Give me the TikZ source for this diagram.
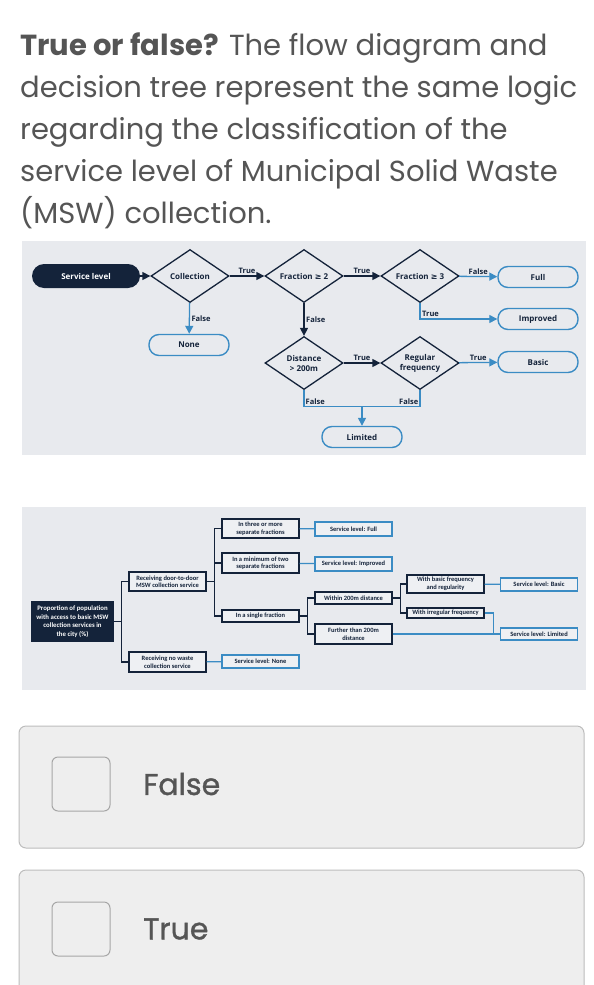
\documentclass[tikz,border=0pt]{standalone}
\usepackage{fontspec}
\setmainfont{Poppins}
\newfontfamily\optfont[FakeBold=1.2]{Poppins}
\newfontfamily\flowfont{Open Sans}
\newfontfamily\treefont{Carlito}
\newfontfamily\symfont{DejaVu Sans}
\usetikzlibrary{shapes.geometric,arrows.meta,positioning}

\definecolor{navy}{HTML}{14233A}
\definecolor{skyline}{HTML}{3B8CC4}
\definecolor{panelgray}{HTML}{E8EAEE}
\definecolor{boxfill}{HTML}{EEF0F3}
\definecolor{txtgray}{HTML}{555555}
\definecolor{optfill}{HTML}{EEEEEE}
\definecolor{optedge}{HTML}{BDBDBD}

\tikzset{
  titleline/.style={anchor=base west, inner sep=0pt, text=txtgray,
    font=\fontsize{29}{42}\selectfont},
  % flow diagram
  choice/.style={diamond, draw=navy, line width=1.3pt, fill=panelgray,
    minimum width=78pt, minimum height=53pt, inner sep=0pt, aspect=1.5,
    align=center, text=navy, font=\flowfont\fontsize{8}{10}\selectfont\bfseries},
  outpill/.style={draw=skyline, line width=1.4pt, fill=panelgray, rounded corners=10pt,
    minimum width=80pt, minimum height=21pt, inner sep=0pt, text=navy,
    font=\flowfont\fontsize{8}{10}\selectfont\bfseries},
  startpill/.style={fill=navy, rounded corners=12pt, minimum width=108pt,
    minimum height=24pt, inner sep=0pt, text=white,
    font=\flowfont\fontsize{8}{10}\selectfont\bfseries},
  flag/.style={inner sep=1.5pt, text=navy, font=\flowfont\fontsize{7.5}{9}\selectfont\bfseries},
  darkarrow/.style={draw=navy, line width=1.3pt, -{Triangle[length=8pt,width=8pt]}},
  bluearrow/.style={draw=skyline, line width=1.3pt, -{Triangle[length=8pt,width=8pt]}},
  blueline/.style={draw=skyline, line width=1.3pt},
  % decision tree
  tbox/.style={draw=navy, line width=1.2pt, fill=boxfill, minimum width=77pt,
    align=center, inner sep=1pt, text=navy,
    font=\treefont\fontsize{6.5}{7.5}\selectfont\bfseries},
  endbox/.style={tbox, draw=skyline},
  rootbox/.style={tbox, fill=navy, text=white, minimum width=81pt,
    minimum height=39pt, font=\treefont\fontsize{6.8}{8.6}\selectfont\bfseries},
  treeline/.style={draw=navy, line width=1.2pt},
  treeblue/.style={draw=skyline, line width=1.2pt},
  % answer options
  optbox/.style={draw=optedge, fill=optfill, line width=1pt, rounded corners=7pt},
  tick/.style={draw=gray!70, line width=1pt, rounded corners=6pt},
  opttext/.style={anchor=west, inner sep=0pt, text=txtgray, font=\optfont\fontsize{30}{36}\selectfont}
}

\begin{document}
\begin{tikzpicture}[x=1pt, y=-1pt]
  \useasboundingbox[fill=white] (0,0) rectangle (594,985);
  \clip (0,0) rectangle (594,985);

  % question
  \node[titleline] (q1) at (20,55) {\textbf{True or false?} The flow diagram and};
  \node[titleline] (q2) at (20,97) {decision tree represent the same logic};
  \node[titleline] (q3) at (20,139) {regarding the classification of the};
  \node[titleline] (q4) at (20,181) {service level of Municipal Solid Waste};
  \node[titleline] (q5) at (20,223) {(MSW) collection.};

  % flow diagram
  \fill[panelgray] (22,241) rectangle (586,455);
  \node[startpill] (svc) at (86,276) {Service level};
  \node[choice] (coll) at (190,276) {Collection};
  \node[choice] (frac2) at (304,276) {Fraction {\symfont ≥} 2};
  \node[choice] (frac3) at (420,276) {Fraction {\symfont ≥} 3};
  \node[outpill] (full) at (538,277) {Full};
  \node[outpill] (impr) at (538,319) {Improved};
  \node[outpill] (none) at (189,345) {None};
  \node[choice] (dist) at (304,363) {Distance\\> 200m};
  \node[choice] (regf) at (420,363) {Regular\\frequency};
  \node[outpill] (basic) at (538,362) {Basic};
  \node[outpill] (lim) at (362,437) {Limited};

  \draw[darkarrow] (svc) -- (coll);
  \draw[darkarrow] (coll) -- node[flag, above] {True} (frac2);
  \draw[darkarrow] (frac2) -- node[flag, above] {True} (frac3);
  \draw[bluearrow] (frac3) -- node[flag, above] {False} (full);
  \draw[bluearrow] (frac3.south) |- node[flag, anchor=south west, pos=0.5] {True} (impr);
  \draw[bluearrow] (coll) -- node[flag, right] {False} (none);
  \draw[darkarrow] (frac2) -- node[flag, right] {False} (dist);
  \draw[darkarrow] (dist) -- node[flag, above] {True} (regf);
  \draw[bluearrow] (regf) -- node[flag, above] {True} (basic);
  \draw[blueline] (dist.south) -- ++(0,16) coordinate (dj) -| (regf.south);
  \node[flag, anchor=south west] (fl1) at (dj) {False};
  \node[flag, anchor=south east] (fl2) at (dj -| regf.south) {False};
  \draw[bluearrow] (dj -| lim) -- (lim);

  % decision tree
  \fill[panelgray] (22,507) rectangle (586,690);
  \node[rootbox] (root) at (72.5,621.5) {Proportion of population\\with access to basic MSW\\collection services in\\the city (\%)};
  \node[tbox, minimum height=19pt] (door) at (167.5,581.5) {Receiving door-to-door\\MSW collection service};
  \node[tbox, minimum height=20pt] (nowaste) at (167.5,662) {Receiving no waste\\collection service};
  \node[tbox, minimum height=19pt] (three) at (260.5,528.5) {In three or more\\separate fractions};
  \node[tbox, minimum height=20pt] (mintwo) at (260.5,563) {In a minimum of two\\separate fractions};
  \node[tbox, minimum height=12pt] (single) at (260.5,616) {In a single fraction};
  \node[endbox, minimum height=14pt] (sfull) at (353.5,529) {Service level: Full};
  \node[endbox, minimum height=14pt] (simpr) at (353.5,564) {Service level: Improved};
  \node[tbox, minimum height=12pt] (within) at (353.5,598) {Within 200m distance};
  \node[tbox, minimum height=20pt] (further) at (353.5,634) {Further than 200m\\distance};
  \node[tbox, minimum height=18pt] (basicfr) at (445.5,584) {With basic frequency\\and regularity};
  \node[tbox, minimum height=10pt] (irreg) at (445.5,613) {With irregular frequency};
  \node[endbox, minimum height=13pt] (sbasic) at (539,584.5) {Service level: Basic};
  \node[endbox, minimum height=12pt] (slim) at (539,634) {Service level: Limited};
  \node[endbox, minimum height=13pt] (snone) at (260.5,661.5) {Service level: None};

  \draw[treeline] (root.east) -- ++(8,0) coordinate (j1);
  \draw[treeline] (j1) |- (door);
  \draw[treeline] (j1) |- (nowaste);
  \draw[treeline] (door.east) -- ++(8,0) coordinate (j2);
  \foreach \kid in {three,mintwo,single}
    \draw[treeline] (j2) |- (\kid);
  \draw[treeline] (single.east) -- ++(8,0) coordinate (j3);
  \draw[treeline] (j3) |- (within);
  \draw[treeline] (j3) |- (further);
  \draw[treeline] (within.east) -- ++(8,0) coordinate (j4);
  \draw[treeline] (j4) |- (basicfr);
  \draw[treeline] (j4) |- (irreg);
  \draw[treeblue] (three) -- (sfull);
  \draw[treeblue] (mintwo) -- (simpr);
  \draw[treeblue] (basicfr) -- (sbasic);
  \draw[treeblue] (irreg.east) -- ++(9,0) |- (slim);
  \draw[treeblue] (further) -- (slim);
  \draw[treeblue] (nowaste) -- (snone);

  % answer options
  \draw[optbox] (19,726) rectangle (584,848);
  \draw[tick] (52,757) rectangle (110,811);
  \node[opttext] (ansF) at (143,784) {False};
  \draw[optbox] (19,870) rectangle (584,1000);
  \draw[tick] (52,902) rectangle (110,956);
  \node[opttext] (ansT) at (143,929) {True};
\end{tikzpicture}
\end{document}
